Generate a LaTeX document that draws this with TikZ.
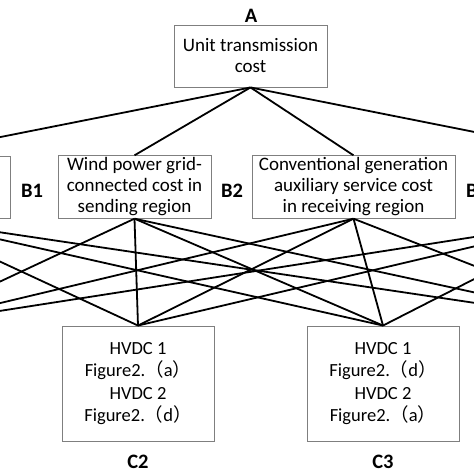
\documentclass[tikz,border=0pt]{standalone}
\usepackage{fontspec}
\setmainfont{Carlito}
\newfontfamily\cjk{Noto Sans CJK SC}
\usepackage{xcolor}
\usetikzlibrary{positioning}
\definecolor{ahpline}{HTML}{000000}
\definecolor{ahpbox}{HTML}{7F7F7F}
\tikzset{
  goal/.style={rectangle, draw=ahpbox, line width=0.9pt, fill=white,
               align=center, font=\fontsize{19}{21}\selectfont,
               minimum width=153pt, minimum height=62pt, inner sep=2pt},
  crit/.style={rectangle, draw=ahpbox, line width=0.9pt, fill=white,
               align=center, font=\fontsize{19}{21}\selectfont,
               minimum height=62pt, inner sep=2pt},
  plan/.style={rectangle, draw=ahpbox, line width=0.9pt, fill=white,
               align=center, font=\fontsize{18.5}{22.5}\selectfont,
               minimum width=152pt, minimum height=115pt, inner sep=2pt},
  tag/.style={font=\fontsize{20.5}{22}\selectfont\bfseries, inner sep=0pt},
  ln/.style={draw=ahpline, line width=1.8pt},
}
\newcommand{\fwp}[1]{{\cjk （}#1{\cjk ）}}

\begin{document}
\begin{tikzpicture}[x=1pt,y=-1pt]
\useasboundingbox (0,0) rectangle (474,474);
\clip (0,0) rectangle (474,474);

% ---------- goal ----------
\node[tag] (tA) at (251,15.5) {A};
\node[goal] (a) at (250.5,56) {Unit transmission\\cost};

% ---------- criteria ----------
\node[crit,minimum width=206pt] (b1) at (-93,187) {};
\node[crit,minimum width=153pt] (b2) at (134.5,187)
   {Wind power grid-\\connected cost in\\sending region};
\node[crit,minimum width=203pt] (b3) at (353.5,187)
   {Conventional generation\\auxiliary service cost\\in receiving region};
\node[crit,minimum width=196pt] (b4) at (593,187) {};
\node[tag] (tB1) at (32,191) {B1};
\node[tag] (tB2) at (232,191) {B2};
\node[tag] (tB3) at (477,191) {B3};

% ---------- alternatives ----------
\node[plan] (c1) at (-94,383.5) {};
\node[plan] (c2) at (138,383.5)
   {HVDC 1\\Figure2.\fwp{a}\\HVDC 2\\Figure2.\fwp{d}};
\node[plan] (c3) at (383,383.5)
   {HVDC 1\\Figure2.\fwp{d}\\HVDC 2\\Figure2.\fwp{a}};
\node[plan] (c4) at (627,383.5) {};
\node[tag] (tC2) at (138,462) {C2};
\node[tag] (tC3) at (383,462) {C3};

% ---------- goal to criteria ----------
\draw[ln] (a.south)--(b1.north); \draw[ln] (a.south)--(b2.north);
\draw[ln] (a.south)--(b3.north); \draw[ln] (a.south)--(b4.north);

% ---------- criteria to alternatives ----------
\draw[ln] (b1.south)--(c1.north); \draw[ln] (b1.south)--(c2.north);
\draw[ln] (b1.south)--(c3.north); \draw[ln] (b1.south)--(c4.north);
\draw[ln] (b2.south)--(c1.north); \draw[ln] (b2.south)--(c2.north);
\draw[ln] (b2.south)--(c3.north); \draw[ln] (b2.south)--(c4.north);
\draw[ln] (b3.south)--(c1.north); \draw[ln] (b3.south)--(c2.north);
\draw[ln] (b3.south)--(c3.north); \draw[ln] (b3.south)--(c4.north);
\draw[ln] (b4.south)--(c1.north); \draw[ln] (b4.south)--(c2.north);
\draw[ln] (b4.south)--(c3.north); \draw[ln] (b4.south)--(c4.north);
\end{tikzpicture}
\end{document}
